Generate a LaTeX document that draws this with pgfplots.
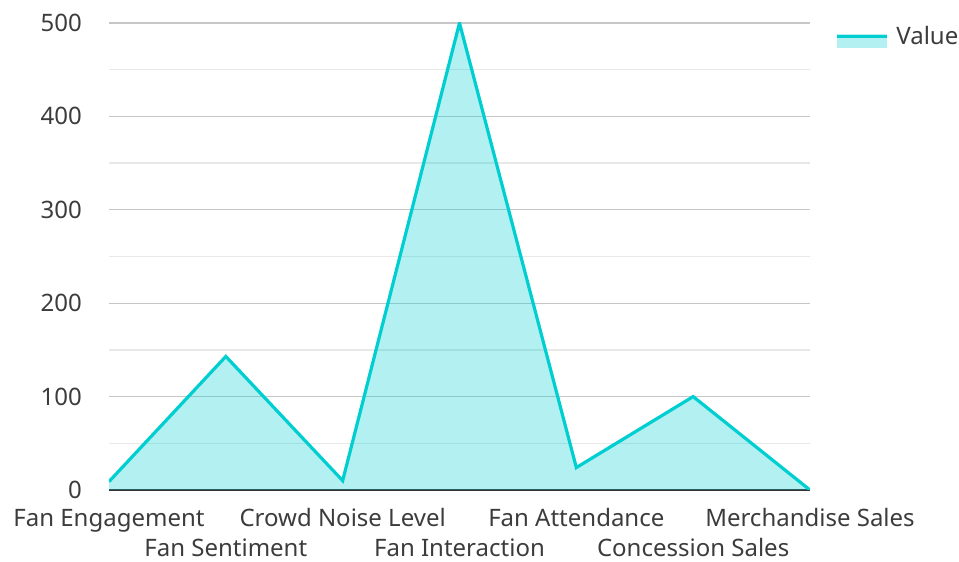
\documentclass[border=0pt]{standalone}
\usepackage{fontspec}
\setmainfont{Noto Sans}
\usepackage{pgfplots}
\pgfplotsset{compat=1.18}
\definecolor{tq}{HTML}{00CED1}
\definecolor{txt}{HTML}{3C3C3C}
\begin{document}
\fontsize{24pt}{28pt}\selectfont
\begin{tikzpicture}
\useasboundingbox (-109pt,-72pt) rectangle (850pt,490pt);
\begin{axis}[
  at={(0pt,0pt)}, anchor=south west,
  scale only axis, width=701pt, height=467pt,
  xmin=0, xmax=6, ymin=0, ymax=500,
  /pgf/number format/assume math mode=true,
  font=\fontsize{24pt}{28pt}\selectfont,
  axis x line*=bottom, axis y line*=left,
  x axis line style={-, draw=black!80, line width=2pt},
  y axis line style={draw=none},
  major tick length=0pt, minor tick length=0pt,
  xtick={0,2,4,6},
  xticklabels={Fan Engagement, Crowd Noise Level, Fan Attendance, Merchandise Sales},
  extra x ticks={1,3,5},
  extra x tick labels={Fan Sentiment, Fan Interaction, Concession Sales},
  extra x tick style={grid=none, tick label style={yshift=-29.5pt}},
  x tick label style={anchor=base, yshift=-37pt, inner sep=0pt, text depth=0pt, text=txt},
  ytick={0,100,200,300,400,500},
  minor y tick num=1,
  y tick label style={anchor=east, inner sep=0pt, xshift=-27pt, text=txt},
  ymajorgrids, yminorgrids,
  major grid style={draw=black!22, line width=1.3pt},
  minor grid style={draw=black!9, line width=1.3pt},
  legend style={at={(axis description cs:1,1)}, anchor=north west, draw=none, fill=none,
    xshift=25pt, yshift=-3pt, inner sep=0pt, text=txt,
    font=\fontsize{24pt}{28pt}\selectfont,
    nodes={inner sep=0pt},
    /tikz/every odd column/.append style={column sep=8pt}},
  legend cell align=left,
]
\addplot[draw=none, fill=tq, fill opacity=0.3, forget plot] coordinates {
  (0,9) (1,143) (2,10) (3,500) (4,24) (5,100) (6,0)} \closedcycle;
\addplot[tq, line width=3.2pt, line join=miter, legend image code/.code={
    \path[fill=tq, fill opacity=0.3, draw=none] (0pt,-11pt) rectangle (50pt,3pt);
    \draw[tq, line width=3.2pt] (0pt,1pt) -- (50pt,1pt);}]
  coordinates {(0,9) (1,143) (2,10) (3,500) (4,24) (5,100) (6,0)};
\addlegendentry{Value}
\end{axis}
\end{tikzpicture}
\end{document}
